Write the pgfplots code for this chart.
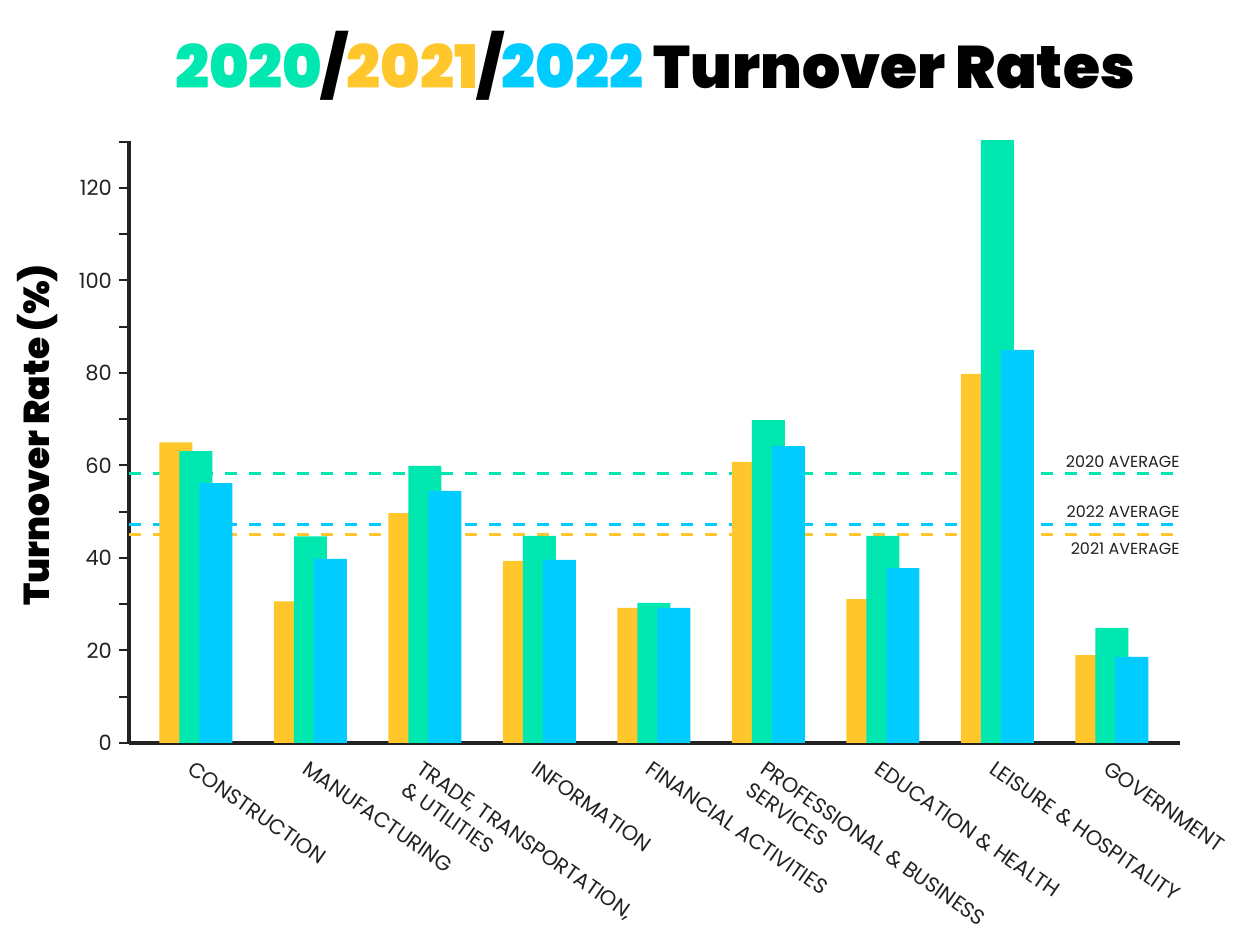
\documentclass[border=0pt]{standalone}
\usepackage{pgfplots}
\usepackage{pgfplotstable}
\pgfplotsset{compat=1.18}
\usepackage{fontspec}
\setmainfont{Poppins}
\newfontfamily\heavy{Poppins Black}

\definecolor{cgrn}{HTML}{00E8AF}
\definecolor{cyel}{HTML}{FFC72C}
\definecolor{cblu}{HTML}{00CCFF}
\definecolor{ink}{HTML}{222222}

% turnover rates (%) per sector
\pgfplotstableread{
idx y2021 y2020 y2022
0   65.0  63.1  56.2
1   30.6  44.7  39.8
2   49.7  59.9  54.5
3   39.4  44.8  39.6
4   29.2  30.3  29.2
5   60.8  69.8  64.2
6   31.1  44.8  37.8
7   79.8  131.0 85.0
8   19.0  24.9  18.6
}\rates

\begin{document}
\begin{tikzpicture}
\path[use as bounding box] (-64.5pt,-104pt) rectangle (561pt,371.5pt);
\begin{axis}[
    at={(0,0)}, anchor=south west,
    scale only axis,
    width=525.5pt, height=301pt,
    xmin=-0.585, xmax=8.594,
    ymin=0, ymax=130.16,
    axis x line*=bottom, axis y line*=left,
    axis line style={ink, line width=2pt, -},
    xtick={0,...,8},
    xtick style={draw=none},
    xticklabels={CONSTRUCTION, MANUFACTURING, {TRADE, TRANSPORTATION,\\\& UTILITIES}, INFORMATION, FINANCIAL ACTIVITIES, {PROFESSIONAL \& BUSINESS\\SERVICES}, EDUCATION \& HEALTH, LEISURE \& HOSPITALITY, GOVERNMENT},
    xticklabel style={rotate=-35, anchor=north west, align=left, font=\fontsize{10.5}{13}\selectfont, text=ink, inner sep=0pt, xshift=1.5pt, yshift=-3pt},
    ytick={0,20,...,120},
    minor ytick={10,30,...,130},
    tick align=outside,
    major tick length=5pt, minor tick length=5pt,
    ytick style={ink, line width=1pt},
    minor tick style={ink, line width=1pt},
    yticklabel style={font=\fontsize{10.5}{12}\selectfont, text=ink},
    /pgf/number format/assume math mode=true,
    clip=true,
]
% averages
\addplot[cgrn, line width=1.6pt, dash pattern=on 6pt off 6pt] coordinates {(-0.585,58.2) (8.594,58.2)};
\addplot[cblu, line width=1.6pt, dash pattern=on 6pt off 6pt] coordinates {(-0.585,47.2) (8.594,47.2)};
\addplot[cyel, line width=1.6pt, dash pattern=on 6pt off 6pt] coordinates {(-0.585,45.1) (8.594,45.1)};
% bars
\addplot[ybar, bar width=16.5pt, bar shift=-10pt, fill=cyel, draw=none] table[x=idx, y=y2021]{\rates};
\addplot[ybar, bar width=16.5pt, bar shift=0pt, fill=cgrn, draw=none] table[x=idx, y=y2020]{\rates};
\addplot[ybar, bar width=16.5pt, bar shift=10pt, fill=cblu, draw=none] table[x=idx, y=y2022]{\rates};
\node[anchor=south east, inner sep=0pt, yshift=3pt, font=\fontsize{8}{9}\selectfont, text=ink] at (axis cs:8.594,58.2) {2020 AVERAGE};
\node[anchor=south east, inner sep=0pt, yshift=3.5pt, font=\fontsize{8}{9}\selectfont, text=ink] at (axis cs:8.594,47.2) {2022 AVERAGE};
\node[anchor=north east, inner sep=0pt, yshift=-4pt, font=\fontsize{8}{9}\selectfont, text=ink] at (axis cs:8.594,45.1) {2021 AVERAGE};
\end{axis}
\node[rotate=90, font=\heavy\fontsize{18}{20}\selectfont, text=black] at (-45.5pt,154pt) {Turnover Rate (\%)};
\node[font=\heavy\fontsize{30}{34}\selectfont, text=black] at (263pt,338.5pt) {\textcolor{cgrn}{2020}/\textcolor{cyel}{2021}/\textcolor{cblu}{2022} Turnover Rates};
\end{tikzpicture}
\end{document}
